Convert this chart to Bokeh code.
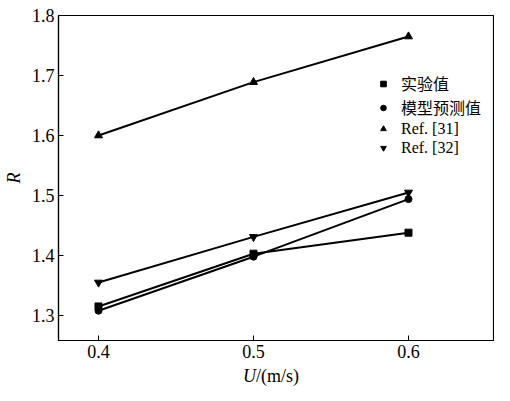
from bokeh.plotting import figure
from bokeh.models import Legend, LegendItem, Range1d, FixedTicker, Div
from bokeh.layouts import column
from bokeh.embed import file_html
from bokeh.resources import INLINE

# data
u = [0.4, 0.5, 0.6]
r_exp = [1.315, 1.403, 1.438]
r_model = [1.308, 1.398, 1.494]
r_ref31 = [1.600, 1.689, 1.765]
r_ref32 = [1.355, 1.431, 1.505]
series_labels = ["实验值", "模型预测值", "Ref. [31]", "Ref. [32]"]
series_markers = ["square", "circle", "triangle", "inverted_triangle"]
x_ticks = [0.4, 0.5, 0.6]
y_ticks = [1.3, 1.4, 1.5, 1.6, 1.7, 1.8]
x_title_var = "U"
x_title_unit = "/(m/s)"
y_title = "R"

SERIF = "Liberation Serif"
MIXED = "Liberation Serif, Noto Sans CJK SC"

p = figure(width=494, height=367,
           x_range=Range1d(0.37419, 0.65484), y_range=Range1d(1.2583, 1.8),
           output_backend="svg", toolbar_location=None,
           min_border_left=58, min_border_right=1, min_border_top=15, min_border_bottom=27)

p.grid.visible = False
p.outline_line_color = "black"
p.outline_line_width = 1.2
p.background_fill_color = "white"
p.border_fill_color = "white"

for ax in (p.xaxis, p.yaxis):
    ax.major_tick_in = 5
    ax.major_tick_out = 0
    ax.minor_tick_line_color = None
    ax.axis_line_color = "black"
    ax.axis_line_width = 1.2
    ax.major_tick_line_color = "black"
    ax.major_label_text_font = SERIF
    ax.major_label_text_font_size = "18px"
    ax.major_label_text_color = "black"
    ax.major_label_standoff = 4

p.xaxis.ticker = FixedTicker(ticks=x_ticks)
p.yaxis.ticker = FixedTicker(ticks=y_ticks)
p.xaxis.major_label_overrides = {t: f"{t:.1f}" for t in x_ticks}
p.yaxis.major_label_overrides = {t: f"{t:.1f}" for t in y_ticks}

p.yaxis.axis_label = y_title
p.yaxis.axis_label_text_font = SERIF
p.yaxis.axis_label_text_font_style = "italic"
p.yaxis.axis_label_text_font_size = "18px"
p.yaxis.axis_label_text_color = "black"
p.yaxis.axis_label_text_align = "right"
p.yaxis.axis_label_standoff = 5

series = [r_exp, r_model, r_ref31, r_ref32]
items = []
for vals, lab, mk in zip(series, series_labels, series_markers):
    p.line(u, vals, line_color="black", line_width=2)
    size = 8 if "triangle" in mk else 7
    s = p.scatter(u, vals, marker=mk, size=size, fill_color="black", line_color="black")
    items.append(LegendItem(label=lab, renderers=[s]))

legend = Legend(items=items, location=(318, 183),
                glyph_width=14, glyph_height=19, label_height=19,
                spacing=-2, padding=0, margin=0, label_standoff=11,
                border_line_color=None, background_fill_alpha=0,
                label_text_font=MIXED, label_text_font_size="16px",
                label_text_color="black")
p.add_layout(legend)

# x-axis title with italic U, as HTML text under the figure
xtitle = Div(text=(f'<div style="padding-left:243px;line-height:18px;'
                   f'font-family:\'Liberation Serif\';font-size:18px;color:black;white-space:nowrap">'
                   f'<i>{x_title_var}</i>{x_title_unit}</div>'),
             width=494, height=18, margin=0)

layout = column(p, xtitle, spacing=0)
open("out.html", "w").write(file_html(layout, INLINE))
